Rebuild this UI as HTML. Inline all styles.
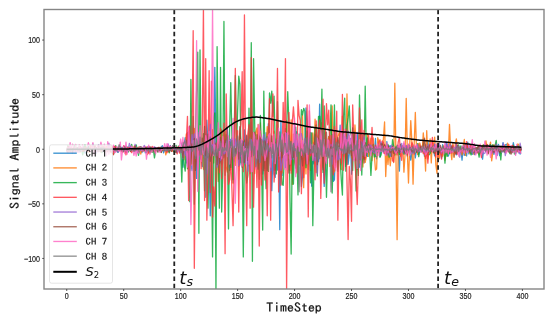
<!DOCTYPE html>
<html><head><meta charset="utf-8"><style>
html,body{margin:0;padding:0;background:#fff;width:550px;height:323px;overflow:hidden}
svg{display:block;filter:blur(0.3px)}
.tk{font-family:'Liberation Sans',sans-serif;font-size:9px;fill:#222;stroke:#222;stroke-width:0.2px}
.lg{font-family:'IPAGothic','WenQuanYi Zen Hei Mono',monospace;font-size:10.8px;fill:#151515;stroke:#151515;stroke-width:0.2px}
.al{font-family:'IPAGothic','WenQuanYi Zen Hei Mono',monospace;font-size:13.9px;fill:#111;stroke:#111;stroke-width:0.25px}
.mt{font-family:'DejaVu Sans',sans-serif;font-style:italic;font-size:13px;fill:#111}
</style></head><body>
<svg width="550" height="323" viewBox="0 0 550 323">
<defs><clipPath id="ax"><rect x="44.0" y="9.5" width="500.0" height="279.5"/></clipPath></defs>
<rect width="550" height="323" fill="#fff"/>
<g clip-path="url(#ax)">
<polyline points="66.73,152.09 67.87,150.81 69.01,149.63 70.14,148.82 71.28,151.22 72.42,152.66 73.56,147.71 74.70,148.91 75.84,148.48 76.98,149.99 78.12,147.23 79.26,149.66 80.40,146.87 81.54,151.08 82.68,147.67 83.82,150.16 84.95,152.98 86.09,151.90 87.23,148.07 88.37,146.61 89.51,150.00 90.65,148.67 91.79,151.46 92.93,144.26 94.07,149.59 95.21,146.13 96.35,150.52 97.49,149.57 98.63,145.97 99.76,150.00 100.90,147.32 102.04,151.71 103.18,147.14 104.32,149.91 105.46,147.20 106.60,150.24 107.74,148.35 108.88,149.35 110.02,150.30 111.16,147.62 112.30,149.85 113.43,151.27 114.57,146.72 115.71,149.16 116.85,150.99 117.99,152.26 119.13,149.24 120.27,150.53 121.41,147.33 122.55,147.57 123.69,150.27 124.83,146.31 125.97,150.78 127.11,148.49 128.24,149.70 129.38,147.77 130.52,148.10 131.66,149.55 132.80,150.44 133.94,149.16 135.08,151.38 136.22,149.05 137.36,149.35 138.50,147.37 139.64,151.03 140.78,149.17 141.92,152.63 143.05,147.97 144.19,147.12 145.33,152.80 146.47,149.13 147.61,151.42 148.75,152.25 149.89,147.11 151.03,150.71 152.17,151.47 153.31,150.00 154.45,150.84 155.59,147.83 156.72,150.40 157.86,147.77 159.00,148.40 160.14,151.16 161.28,146.87 162.42,145.64 163.56,152.91 164.70,148.62 165.84,149.73 166.98,149.19 168.12,149.56 169.26,149.15 170.40,145.50 171.53,151.29 172.67,146.19 173.81,151.24 174.95,151.87 176.09,147.78 177.23,150.86 178.37,147.36 179.51,151.98 180.65,149.95 181.79,143.43 182.93,167.31 184.07,144.71 185.21,137.58 186.34,162.84 187.48,132.77 188.62,153.62 189.76,126.17 190.90,164.24 192.04,170.53 193.18,161.86 194.32,143.07 195.46,135.85 196.60,178.46 197.74,155.33 198.88,149.73 200.02,147.95 201.15,150.70 202.29,166.65 203.43,148.22 204.57,149.85 205.71,169.33 206.85,120.18 207.99,147.11 209.13,161.21 210.27,215.85 211.41,158.76 212.55,137.62 213.69,150.17 214.82,67.37 215.96,139.73 217.10,150.88 218.24,145.31 219.38,146.37 220.52,160.73 221.66,164.22 222.80,145.50 223.94,157.94 225.08,152.96 226.22,149.32 227.36,127.61 228.50,150.32 229.63,170.62 230.77,139.43 231.91,144.55 233.05,182.39 234.19,147.79 235.33,151.67 236.47,151.78 237.61,142.45 238.75,143.25 239.89,164.94 241.03,144.91 242.17,158.15 243.31,150.73 244.44,129.82 245.58,153.06 246.72,146.93 247.86,151.54 249.00,142.13 250.14,140.29 251.28,122.22 252.42,156.74 253.56,145.29 254.70,153.87 255.84,143.00 256.98,159.92 258.11,145.01 259.25,138.83 260.39,156.30 261.53,145.86 262.67,174.05 263.81,140.44 264.95,168.40 266.09,132.71 267.23,145.42 268.37,123.74 269.51,133.81 270.65,151.66 271.79,190.72 272.92,155.43 274.06,173.69 275.20,177.31 276.34,138.85 277.48,170.09 278.62,143.18 279.76,229.72 280.90,120.62 282.04,175.36 283.18,147.56 284.32,153.21 285.46,128.60 286.60,160.62 287.73,142.28 288.87,155.73 290.01,147.44 291.15,165.54 292.29,161.90 293.43,148.33 294.57,137.27 295.71,158.82 296.85,131.71 297.99,155.75 299.13,144.18 300.27,155.18 301.40,186.37 302.54,176.10 303.68,158.76 304.82,148.35 305.96,107.98 307.10,121.45 308.24,155.23 309.38,139.43 310.52,135.10 311.66,186.18 312.80,154.73 313.94,163.95 315.08,143.01 316.21,139.41 317.35,149.01 318.49,161.64 319.63,104.04 320.77,151.29 321.91,140.35 323.05,160.42 324.19,186.37 325.33,167.84 326.47,154.37 327.61,154.20 328.75,136.36 329.89,140.42 331.02,148.59 332.16,134.41 333.30,181.31 334.44,179.82 335.58,150.04 336.72,146.00 337.86,171.25 339.00,149.75 340.14,125.19 341.28,165.08 342.42,146.20 343.56,152.50 344.69,136.37 345.83,166.37 346.97,124.53 348.11,164.24 349.25,154.77 350.39,138.46 351.53,174.18 352.67,132.24 353.81,157.34 354.95,141.17 356.09,157.04 357.23,132.40 358.37,153.18 359.50,167.21 360.64,134.32 361.78,162.01 362.92,146.48 364.06,140.77 365.20,156.44 366.34,146.85 367.48,156.43 368.62,148.79 369.76,147.52 370.90,153.73 372.04,146.16 373.18,147.11 374.31,155.12 375.45,138.44 376.59,158.87 377.73,149.55 378.87,148.20 380.01,156.55 381.15,148.66 382.29,144.64 383.43,148.70 384.57,147.13 385.71,153.13 386.85,141.58 387.98,155.92 389.12,146.17 390.26,145.76 391.40,149.90 392.54,148.28 393.68,152.07 394.82,150.77 395.96,151.50 397.10,145.24 398.24,150.87 399.38,171.09 400.52,144.21 401.66,149.13 402.79,145.98 403.93,147.70 405.07,148.28 406.21,146.19 407.35,156.19 408.49,144.76 409.63,150.88 410.77,160.14 411.91,153.34 413.05,149.73 414.19,146.23 415.33,157.95 416.47,148.27 417.60,150.79 418.74,154.32 419.88,147.19 421.02,152.03 422.16,147.15 423.30,141.34 424.44,156.25 425.58,151.56 426.72,152.03 427.86,141.05 429.00,151.82 430.14,150.03 431.28,150.98 432.41,146.54 433.55,150.60 434.69,155.91 435.83,150.69 436.97,146.35 438.11,150.53 439.25,151.59 440.39,147.93 441.53,158.11 442.67,144.60 443.81,150.22 444.95,153.47 446.08,141.75 447.22,149.16 448.36,156.04 449.50,152.61 450.64,144.73 451.78,151.12 452.92,148.95 454.06,156.68 455.20,147.98 456.34,154.82 457.48,148.16 458.62,149.65 459.76,150.40 460.89,149.52 462.03,160.17 463.17,147.03 464.31,155.33 465.45,149.14 466.59,155.87 467.73,142.16 468.87,153.96 470.01,146.74 471.15,151.65 472.29,154.35 473.43,149.05 474.57,149.49 475.70,148.23 476.84,149.57 477.98,147.74 479.12,149.54 480.26,145.50 481.40,150.54 482.54,159.08 483.68,149.49 484.82,150.06 485.96,151.06 487.10,146.85 488.24,153.01 489.37,148.55 490.51,146.17 491.65,148.35 492.79,149.66 493.93,154.41 495.07,147.01 496.21,149.52 497.35,147.54 498.49,144.36 499.63,155.63 500.77,147.07 501.91,150.97 503.05,142.70 504.18,151.20 505.32,144.77 506.46,144.21 507.60,146.86 508.74,148.32 509.88,147.14 511.02,150.95 512.16,152.14 513.30,142.74 514.44,148.09 515.58,153.91 516.72,147.24 517.86,148.10 518.99,150.21 520.13,154.12 521.27,148.64" fill="none" stroke="#0a78c6" stroke-width="1.3" stroke-linejoin="round" stroke-opacity="0.8"/><polyline points="66.73,149.41 67.87,152.94 69.01,149.54 70.14,147.57 71.28,148.17 72.42,149.70 73.56,147.99 74.70,147.49 75.84,150.23 76.98,147.43 78.12,151.56 79.26,147.02 80.40,151.98 81.54,148.96 82.68,148.91 83.82,150.87 84.95,146.56 86.09,148.84 87.23,150.29 88.37,148.53 89.51,152.67 90.65,147.50 91.79,149.21 92.93,151.00 94.07,147.30 95.21,149.41 96.35,148.88 97.49,150.88 98.63,148.46 99.76,148.76 100.90,150.44 102.04,145.81 103.18,149.31 104.32,146.31 105.46,150.94 106.60,146.38 107.74,151.60 108.88,146.68 110.02,149.70 111.16,146.26 112.30,150.53 113.43,146.77 114.57,148.54 115.71,150.58 116.85,148.59 117.99,149.81 119.13,150.51 120.27,146.93 121.41,151.63 122.55,151.58 123.69,151.93 124.83,147.95 125.97,152.26 127.11,148.99 128.24,149.87 129.38,148.50 130.52,151.04 131.66,148.54 132.80,151.07 133.94,146.41 135.08,150.56 136.22,148.82 137.36,151.07 138.50,147.16 139.64,149.92 140.78,154.08 141.92,147.92 143.05,150.15 144.19,147.32 145.33,149.64 146.47,146.91 147.61,154.49 148.75,147.02 149.89,153.24 151.03,148.36 152.17,151.67 153.31,148.78 154.45,150.09 155.59,147.86 156.72,150.80 157.86,148.29 159.00,151.06 160.14,148.90 161.28,147.74 162.42,150.50 163.56,148.60 164.70,149.43 165.84,154.80 166.98,147.86 168.12,151.97 169.26,149.15 170.40,149.50 171.53,147.83 172.67,151.01 173.81,151.74 174.95,149.90 176.09,148.07 177.23,150.31 178.37,148.25 179.51,148.11 180.65,152.00 181.79,147.73 182.93,154.88 184.07,159.85 185.21,150.68 186.34,133.90 187.48,163.41 188.62,131.96 189.76,130.08 190.90,139.03 192.04,164.13 193.18,156.33 194.32,128.47 195.46,161.42 196.60,148.01 197.74,151.68 198.88,148.21 200.02,151.39 201.15,142.77 202.29,149.65 203.43,168.96 204.57,170.13 205.71,146.08 206.85,160.41 207.99,151.55 209.13,138.89 210.27,149.96 211.41,139.69 212.55,129.56 213.69,162.98 214.82,141.76 215.96,156.99 217.10,146.98 218.24,181.49 219.38,158.69 220.52,152.01 221.66,129.79 222.80,152.85 223.94,146.01 225.08,131.49 226.22,167.27 227.36,172.03 228.50,148.89 229.63,152.03 230.77,169.74 231.91,138.05 233.05,183.55 234.19,140.14 235.33,165.33 236.47,156.16 237.61,136.68 238.75,166.33 239.89,133.45 241.03,151.95 242.17,145.67 243.31,160.59 244.44,143.90 245.58,154.23 246.72,139.43 247.86,165.90 249.00,148.45 250.14,158.45 251.28,132.29 252.42,132.82 253.56,142.88 254.70,173.36 255.84,131.69 256.98,127.91 258.11,151.63 259.25,154.59 260.39,122.95 261.53,168.89 262.67,140.33 263.81,161.24 264.95,152.10 266.09,144.95 267.23,126.73 268.37,153.71 269.51,133.99 270.65,166.65 271.79,144.81 272.92,153.29 274.06,131.07 275.20,162.32 276.34,142.15 277.48,141.58 278.62,140.70 279.76,140.97 280.90,141.63 282.04,173.03 283.18,153.42 284.32,143.70 285.46,141.59 286.60,120.62 287.73,153.04 288.87,139.16 290.01,170.47 291.15,119.81 292.29,184.40 293.43,134.08 294.57,162.14 295.71,165.89 296.85,162.52 297.99,147.23 299.13,164.96 300.27,140.77 301.40,158.94 302.54,115.04 303.68,187.65 304.82,139.63 305.96,173.97 307.10,136.84 308.24,169.24 309.38,127.57 310.52,170.47 311.66,148.96 312.80,132.81 313.94,151.68 315.08,119.08 316.21,172.58 317.35,150.51 318.49,135.63 319.63,151.51 320.77,150.75 321.91,122.66 323.05,167.14 324.19,148.63 325.33,132.56 326.47,160.03 327.61,144.59 328.75,136.65 329.89,166.46 331.02,145.38 332.16,105.80 333.30,147.62 334.44,171.96 335.58,138.78 336.72,152.40 337.86,136.74 339.00,133.21 340.14,131.99 341.28,169.59 342.42,116.19 343.56,156.02 344.69,139.21 345.83,159.14 346.97,93.90 348.11,137.98 349.25,153.34 350.39,145.31 351.53,157.81 352.67,157.42 353.81,154.96 354.95,124.93 356.09,143.00 357.23,169.38 358.37,147.20 359.50,162.83 360.64,150.69 361.78,143.19 362.92,167.08 364.06,139.70 365.20,162.35 366.34,156.79 367.48,133.41 368.62,156.46 369.76,146.58 370.90,138.10 372.04,160.72 373.18,137.94 374.31,154.18 375.45,170.02 376.59,168.97 377.73,137.57 378.87,141.65 380.01,150.49 381.15,147.68 382.29,149.99 383.43,138.52 384.57,121.96 385.71,176.54 386.85,150.84 387.98,164.54 389.12,149.81 390.26,165.76 391.40,154.26 392.54,147.44 393.68,162.52 394.82,83.20 395.96,158.36 397.10,239.65 398.24,145.65 399.38,148.83 400.52,156.27 401.66,146.92 402.79,145.83 403.93,172.18 405.07,154.21 406.21,98.37 407.35,153.01 408.49,183.10 409.63,147.43 410.77,120.54 411.91,142.69 413.05,184.19 414.19,143.93 415.33,112.46 416.47,148.18 417.60,154.57 418.74,143.65 419.88,143.09 421.02,151.66 422.16,151.84 423.30,132.87 424.44,146.85 425.58,171.09 426.72,130.69 427.86,158.96 429.00,152.23 430.14,138.81 431.28,162.90 432.41,140.66 433.55,150.67 434.69,137.24 435.83,164.57 436.97,173.27 438.11,142.67 439.25,158.69 440.39,146.92 441.53,153.45 442.67,156.24 443.81,145.69 444.95,160.17 446.08,153.71 447.22,145.88 448.36,152.24 449.50,124.47 450.64,149.91 451.78,159.62 452.92,143.23 454.06,157.36 455.20,144.68 456.34,138.88 457.48,147.94 458.62,149.56 459.76,151.09 460.89,147.87 462.03,154.87 463.17,146.77 464.31,139.51 465.45,155.41 466.59,145.93 467.73,148.02 468.87,149.62 470.01,153.81 471.15,145.32 472.29,149.79 473.43,154.10 474.57,148.60 475.70,147.87 476.84,149.63 477.98,147.78 479.12,154.35 480.26,152.23 481.40,146.38 482.54,145.14 483.68,147.06 484.82,149.59 485.96,140.80 487.10,149.23 488.24,152.73 489.37,147.80 490.51,142.15 491.65,160.82 492.79,152.69 493.93,144.58 495.07,148.87 496.21,144.26 497.35,150.30 498.49,146.40 499.63,149.46 500.77,153.21 501.91,146.23 503.05,149.25 504.18,149.41 505.32,148.89 506.46,151.10 507.60,143.08 508.74,149.27 509.88,152.85 511.02,147.73 512.16,151.56 513.30,147.22 514.44,149.68 515.58,147.14 516.72,149.17 517.86,143.97 518.99,145.15 520.13,151.76 521.27,147.74" fill="none" stroke="#ff7200" stroke-width="1.3" stroke-linejoin="round" stroke-opacity="0.8"/><polyline points="66.73,150.96 67.87,145.63 69.01,150.60 70.14,151.54 71.28,149.26 72.42,150.73 73.56,148.26 74.70,145.46 75.84,152.10 76.98,148.13 78.12,149.43 79.26,146.59 80.40,149.77 81.54,148.94 82.68,154.86 83.82,149.05 84.95,144.91 86.09,147.86 87.23,149.48 88.37,146.64 89.51,147.45 90.65,150.01 91.79,148.54 92.93,149.59 94.07,147.41 95.21,150.88 96.35,148.13 97.49,150.29 98.63,146.39 99.76,150.88 100.90,147.90 102.04,152.61 103.18,149.10 104.32,147.76 105.46,148.47 106.60,149.75 107.74,151.57 108.88,146.53 110.02,151.53 111.16,148.76 112.30,152.89 113.43,154.49 114.57,151.28 115.71,145.70 116.85,149.87 117.99,151.84 119.13,147.99 120.27,149.64 121.41,149.25 122.55,150.13 123.69,146.08 124.83,147.30 125.97,151.99 127.11,146.87 128.24,152.06 129.38,148.52 130.52,147.89 131.66,144.33 132.80,150.93 133.94,148.93 135.08,150.24 136.22,144.87 137.36,149.54 138.50,155.36 139.64,149.46 140.78,147.09 141.92,150.83 143.05,148.45 144.19,150.40 145.33,148.31 146.47,152.71 147.61,147.47 148.75,147.58 149.89,150.35 151.03,148.25 152.17,152.27 153.31,149.29 154.45,157.98 155.59,151.22 156.72,148.72 157.86,152.11 159.00,148.54 160.14,148.17 161.28,152.26 162.42,147.87 163.56,149.26 164.70,150.00 165.84,147.72 166.98,146.78 168.12,149.12 169.26,152.84 170.40,149.02 171.53,149.29 172.67,147.89 173.81,151.35 174.95,152.12 176.09,145.37 177.23,152.03 178.37,146.02 179.51,150.49 180.65,148.49 181.79,182.00 182.93,142.48 184.07,164.31 185.21,171.09 186.34,144.85 187.48,168.77 188.62,141.73 189.76,201.66 190.90,79.38 192.04,163.46 193.18,116.47 194.32,204.17 195.46,130.11 196.60,91.39 197.74,52.08 198.88,233.32 200.02,49.90 201.15,158.13 202.29,148.92 203.43,133.70 204.57,190.82 205.71,147.59 206.85,176.49 207.99,208.21 209.13,157.01 210.27,151.28 211.41,148.50 212.55,256.90 213.69,117.45 214.82,112.94 215.96,291.18 217.10,46.62 218.24,146.81 219.38,208.21 220.52,67.37 221.66,212.03 222.80,168.72 223.94,21.51 225.08,175.25 226.22,134.64 227.36,143.10 228.50,228.95 229.63,129.24 230.77,82.65 231.91,138.36 233.05,179.69 234.19,131.13 235.33,75.45 236.47,150.30 237.61,111.12 238.75,76.10 239.89,84.03 241.03,162.84 242.17,151.20 243.31,256.90 244.44,140.06 245.58,166.14 246.72,182.98 247.86,175.12 249.00,108.07 250.14,173.66 251.28,42.69 252.42,261.27 253.56,58.63 254.70,124.66 255.84,167.64 256.98,161.36 258.11,147.91 259.25,179.30 260.39,115.40 261.53,161.46 262.67,230.04 263.81,91.06 264.95,161.37 266.09,188.64 267.23,136.62 268.37,171.40 269.51,93.02 270.65,103.09 271.79,91.06 272.92,116.38 274.06,96.08 275.20,142.08 276.34,173.96 277.48,101.72 278.62,158.94 279.76,131.84 280.90,161.74 282.04,184.19 283.18,185.29 284.32,156.08 285.46,155.47 286.60,131.50 287.73,91.71 288.87,121.09 290.01,200.56 291.15,254.06 292.29,144.86 293.43,184.21 294.57,142.69 295.71,127.27 296.85,153.18 297.99,194.95 299.13,133.96 300.27,141.61 301.40,109.68 302.54,114.87 303.68,108.35 304.82,111.26 305.96,167.72 307.10,147.74 308.24,164.21 309.38,147.06 310.52,182.81 311.66,132.89 312.80,225.68 313.94,168.43 315.08,128.49 316.21,124.96 317.35,176.03 318.49,116.53 319.63,116.11 320.77,138.19 321.91,89.06 323.05,172.52 324.19,105.80 325.33,143.41 326.47,197.29 327.61,155.66 328.75,154.64 329.89,133.32 331.02,104.81 332.16,193.03 333.30,157.98 334.44,104.81 335.58,162.47 336.72,145.85 337.86,169.18 339.00,145.79 340.14,158.68 341.28,179.82 342.42,194.98 343.56,116.06 344.69,98.21 345.83,171.17 346.97,126.65 348.11,117.92 349.25,105.80 350.39,131.27 351.53,136.28 352.67,170.56 353.81,131.57 354.95,146.40 356.09,191.02 357.23,152.71 358.37,175.45 359.50,94.99 360.64,137.95 361.78,174.99 362.92,135.22 364.06,159.29 365.20,86.25 366.34,155.79 367.48,137.83 368.62,151.05 369.76,153.11 370.90,175.45 372.04,154.93 373.18,144.41 374.31,156.93 375.45,156.71 376.59,148.88 377.73,152.62 378.87,145.36 380.01,157.28 381.15,154.66 382.29,143.21 383.43,151.16 384.57,145.36 385.71,149.77 386.85,150.33 387.98,144.32 389.12,157.19 390.26,153.91 391.40,156.40 392.54,139.64 393.68,146.08 394.82,155.00 395.96,146.76 397.10,148.88 398.24,147.90 399.38,154.39 400.52,144.57 401.66,149.71 402.79,147.75 403.93,154.20 405.07,151.04 406.21,150.46 407.35,153.93 408.49,149.27 409.63,147.89 410.77,148.67 411.91,150.02 413.05,152.23 414.19,147.47 415.33,152.55 416.47,152.08 417.60,143.64 418.74,156.59 419.88,147.56 421.02,147.47 422.16,149.98 423.30,151.17 424.44,147.09 425.58,152.53 426.72,148.51 427.86,154.08 429.00,154.74 430.14,153.33 431.28,146.92 432.41,145.89 433.55,152.20 434.69,144.76 435.83,148.39 436.97,146.08 438.11,150.71 439.25,152.23 440.39,148.51 441.53,149.92 442.67,149.39 443.81,147.13 444.95,163.14 446.08,148.90 447.22,156.39 448.36,150.17 449.50,153.47 450.64,148.23 451.78,150.69 452.92,149.91 454.06,149.74 455.20,151.26 456.34,147.12 457.48,152.61 458.62,144.95 459.76,149.31 460.89,145.81 462.03,150.14 463.17,148.99 464.31,149.85 465.45,147.61 466.59,152.16 467.73,148.41 468.87,151.60 470.01,151.96 471.15,155.00 472.29,148.28 473.43,148.25 474.57,154.26 475.70,152.96 476.84,147.44 477.98,150.60 479.12,157.17 480.26,147.93 481.40,151.08 482.54,149.82 483.68,144.57 484.82,144.85 485.96,150.58 487.10,147.97 488.24,150.03 489.37,145.46 490.51,144.60 491.65,150.30 492.79,144.60 493.93,152.11 495.07,145.60 496.21,140.33 497.35,152.01 498.49,147.40 499.63,146.54 500.77,159.93 501.91,147.42 503.05,149.79 504.18,146.30 505.32,147.39 506.46,147.47 507.60,149.89 508.74,147.27 509.88,153.57 511.02,146.09 512.16,150.60 513.30,145.17 514.44,153.98 515.58,153.02 516.72,147.07 517.86,145.80 518.99,149.75 520.13,149.92 521.27,149.02" fill="none" stroke="#05a532" stroke-width="1.3" stroke-linejoin="round" stroke-opacity="0.8"/><polyline points="66.73,150.65 67.87,146.83 69.01,146.39 70.14,152.36 71.28,147.54 72.42,153.43 73.56,149.01 74.70,149.78 75.84,148.77 76.98,150.50 78.12,149.36 79.26,149.62 80.40,146.59 81.54,147.75 82.68,151.41 83.82,147.60 84.95,150.71 86.09,146.98 87.23,151.47 88.37,151.49 89.51,150.25 90.65,145.59 91.79,146.66 92.93,149.70 94.07,148.67 95.21,145.95 96.35,150.73 97.49,151.59 98.63,150.22 99.76,150.75 100.90,147.45 102.04,151.30 103.18,147.20 104.32,147.61 105.46,149.13 106.60,151.39 107.74,150.61 108.88,147.70 110.02,150.97 111.16,152.49 112.30,146.86 113.43,154.64 114.57,146.24 115.71,147.15 116.85,149.54 117.99,147.97 119.13,149.55 120.27,147.80 121.41,149.57 122.55,151.25 123.69,145.65 124.83,147.92 125.97,154.81 127.11,147.56 128.24,147.52 129.38,147.18 130.52,150.16 131.66,152.66 132.80,147.73 133.94,150.78 135.08,147.42 136.22,150.13 137.36,147.61 138.50,152.03 139.64,146.81 140.78,149.39 141.92,148.80 143.05,151.60 144.19,147.94 145.33,151.45 146.47,149.78 147.61,149.24 148.75,153.42 149.89,146.57 151.03,150.79 152.17,146.35 153.31,148.82 154.45,147.67 155.59,150.10 156.72,148.48 157.86,147.87 159.00,147.23 160.14,149.96 161.28,149.74 162.42,148.57 163.56,148.10 164.70,149.92 165.84,147.52 166.98,152.81 168.12,148.72 169.26,149.27 170.40,146.19 171.53,151.37 172.67,149.43 173.81,148.14 174.95,147.03 176.09,150.58 177.23,153.94 178.37,146.72 179.51,153.19 180.65,147.84 181.79,145.69 182.93,155.61 184.07,150.95 185.21,146.34 186.34,140.23 187.48,116.37 188.62,200.56 189.76,126.16 190.90,164.93 192.04,130.55 193.18,30.68 194.32,268.26 195.46,151.76 196.60,147.62 197.74,154.26 198.88,138.73 200.02,135.92 201.15,168.66 202.29,129.66 203.43,7.32 204.57,200.56 205.71,58.63 206.85,220.19 207.99,167.41 209.13,70.64 210.27,192.49 211.41,81.17 212.55,217.07 213.69,186.89 214.82,206.02 215.96,173.26 217.10,143.44 218.24,139.89 219.38,172.76 220.52,128.04 221.66,178.59 222.80,156.43 223.94,123.15 225.08,253.63 226.22,94.01 227.36,153.55 228.50,184.41 229.63,179.76 230.77,158.18 231.91,188.96 233.05,225.68 234.19,169.57 235.33,68.46 236.47,151.26 237.61,130.65 238.75,212.03 239.89,130.79 241.03,123.53 242.17,71.73 243.31,171.67 244.44,14.96 245.58,162.49 246.72,225.68 247.86,134.11 249.00,124.68 250.14,208.21 251.28,57.54 252.42,155.80 253.56,207.12 254.70,159.44 255.84,148.52 256.98,187.60 258.11,124.52 259.25,245.98 260.39,131.23 261.53,185.01 262.67,141.21 263.81,155.29 264.95,180.09 266.09,139.19 267.23,215.85 268.37,137.33 269.51,98.65 270.65,220.22 271.79,118.19 272.92,93.90 274.06,182.00 275.20,167.81 276.34,147.50 277.48,68.46 278.62,191.88 279.76,147.04 280.90,185.28 282.04,157.00 283.18,102.52 284.32,148.81 285.46,58.63 286.60,291.18 287.73,164.13 288.87,112.35 290.01,154.04 291.15,173.22 292.29,121.97 293.43,106.78 294.57,123.24 295.71,161.90 296.85,172.84 297.99,100.34 299.13,115.62 300.27,120.63 301.40,193.69 302.54,143.12 303.68,177.64 304.82,157.67 305.96,157.99 307.10,104.83 308.24,216.94 309.38,110.80 310.52,155.76 311.66,148.10 312.80,155.19 313.94,142.48 315.08,179.82 316.21,120.97 317.35,156.37 318.49,129.73 319.63,120.23 320.77,198.38 321.91,152.13 323.05,99.25 324.19,183.18 325.33,138.00 326.47,103.72 327.61,124.81 328.75,110.24 329.89,155.60 331.02,135.52 332.16,159.91 333.30,174.91 334.44,126.43 335.58,167.17 336.72,111.26 337.86,220.22 339.00,151.71 340.14,133.11 341.28,163.32 342.42,94.44 343.56,170.20 344.69,151.08 345.83,129.23 346.97,180.55 348.11,239.54 349.25,166.47 350.39,180.03 351.53,221.31 352.67,104.81 353.81,138.52 354.95,159.20 356.09,179.73 357.23,204.49 358.37,166.86 359.50,107.90 360.64,149.63 361.78,119.88 362.92,158.17 364.06,130.28 365.20,159.30 366.34,148.68 367.48,150.46 368.62,135.06 369.76,150.27 370.90,145.04 372.04,127.41 373.18,148.94 374.31,153.45 375.45,145.11 376.59,148.37 377.73,150.12 378.87,142.09 380.01,139.73 381.15,150.06 382.29,140.97 383.43,142.71 384.57,153.66 385.71,146.27 386.85,149.35 387.98,147.80 389.12,148.27 390.26,152.53 391.40,149.02 392.54,160.66 393.68,161.72 394.82,148.89 395.96,151.64 397.10,154.99 398.24,141.84 399.38,137.66 400.52,151.23 401.66,160.24 402.79,146.44 403.93,149.65 405.07,151.71 406.21,146.00 407.35,155.25 408.49,147.05 409.63,149.97 410.77,150.12 411.91,142.60 413.05,145.26 414.19,154.10 415.33,146.20 416.47,147.68 417.60,152.19 418.74,151.01 419.88,144.82 421.02,150.45 422.16,147.32 423.30,153.74 424.44,149.21 425.58,158.45 426.72,149.59 427.86,163.14 429.00,144.93 430.14,151.37 431.28,147.14 432.41,137.42 433.55,149.89 434.69,148.52 435.83,157.07 436.97,143.70 438.11,156.84 439.25,148.26 440.39,152.08 441.53,159.06 442.67,148.72 443.81,150.56 444.95,146.66 446.08,149.59 447.22,144.95 448.36,152.80 449.50,146.65 450.64,151.47 451.78,152.99 452.92,145.18 454.06,149.17 455.20,154.23 456.34,144.19 457.48,154.16 458.62,146.68 459.76,149.62 460.89,150.81 462.03,149.14 463.17,149.34 464.31,150.45 465.45,146.78 466.59,141.63 467.73,148.45 468.87,151.37 470.01,144.72 471.15,146.74 472.29,151.73 473.43,146.64 474.57,148.50 475.70,149.43 476.84,148.21 477.98,152.99 479.12,144.87 480.26,150.50 481.40,157.51 482.54,146.74 483.68,149.71 484.82,146.34 485.96,150.05 487.10,144.72 488.24,146.16 489.37,148.92 490.51,148.14 491.65,148.95 492.79,152.46 493.93,146.09 495.07,150.27 496.21,149.33 497.35,148.46 498.49,150.97 499.63,146.39 500.77,149.44 501.91,147.86 503.05,150.24 504.18,144.94 505.32,152.29 506.46,146.93 507.60,150.60 508.74,144.49 509.88,149.42 511.02,151.82 512.16,145.34 513.30,146.33 514.44,151.03 515.58,148.71 516.72,148.87 517.86,152.09 518.99,147.89 520.13,152.17 521.27,147.89" fill="none" stroke="#ff2f3a" stroke-width="1.3" stroke-linejoin="round" stroke-opacity="0.8"/><polyline points="66.73,148.93 67.87,151.23 69.01,146.78 70.14,148.60 71.28,151.61 72.42,148.87 73.56,152.12 74.70,149.51 75.84,148.64 76.98,151.99 78.12,148.12 79.26,152.07 80.40,149.89 81.54,147.81 82.68,147.86 83.82,149.27 84.95,149.65 86.09,149.02 87.23,150.57 88.37,148.35 89.51,150.22 90.65,148.95 91.79,150.76 92.93,148.74 94.07,151.10 95.21,147.28 96.35,153.38 97.49,149.68 98.63,144.56 99.76,148.58 100.90,147.02 102.04,149.29 103.18,151.78 104.32,148.93 105.46,150.46 106.60,149.45 107.74,149.98 108.88,143.06 110.02,149.11 111.16,150.31 112.30,148.29 113.43,150.00 114.57,148.45 115.71,150.77 116.85,148.97 117.99,152.06 119.13,150.30 120.27,149.86 121.41,148.69 122.55,152.16 123.69,148.12 124.83,150.68 125.97,149.18 127.11,152.11 128.24,149.15 129.38,143.35 130.52,147.05 131.66,150.48 132.80,147.56 133.94,151.03 135.08,144.28 136.22,148.58 137.36,152.51 138.50,148.40 139.64,147.59 140.78,150.49 141.92,148.98 143.05,150.91 144.19,145.44 145.33,147.46 146.47,151.47 147.61,146.64 148.75,147.09 149.89,151.37 151.03,149.63 152.17,148.74 153.31,149.91 154.45,146.78 155.59,147.73 156.72,149.29 157.86,148.31 159.00,150.57 160.14,148.24 161.28,150.64 162.42,147.37 163.56,147.03 164.70,151.04 165.84,148.24 166.98,150.50 168.12,143.93 169.26,147.61 170.40,149.79 171.53,149.44 172.67,148.69 173.81,146.52 174.95,148.19 176.09,150.54 177.23,152.04 178.37,150.47 179.51,147.47 180.65,152.10 181.79,146.36 182.93,158.76 184.07,149.55 185.21,155.62 186.34,140.87 187.48,165.89 188.62,135.16 189.76,164.55 190.90,146.49 192.04,134.69 193.18,145.53 194.32,133.82 195.46,154.16 196.60,158.30 197.74,169.71 198.88,132.44 200.02,156.03 201.15,146.93 202.29,144.18 203.43,152.12 204.57,157.33 205.71,146.58 206.85,173.94 207.99,147.52 209.13,148.97 210.27,124.41 211.41,156.59 212.55,144.61 213.69,154.71 214.82,137.42 215.96,155.06 217.10,167.25 218.24,163.08 219.38,143.54 220.52,160.56 221.66,149.83 222.80,140.13 223.94,154.00 225.08,152.92 226.22,141.03 227.36,143.15 228.50,148.34 229.63,140.45 230.77,141.33 231.91,138.55 233.05,138.34 234.19,158.12 235.33,138.99 236.47,146.94 237.61,140.87 238.75,165.83 239.89,142.71 241.03,156.61 242.17,140.55 243.31,142.66 244.44,143.15 245.58,163.76 246.72,136.09 247.86,171.13 249.00,146.32 250.14,151.16 251.28,139.77 252.42,149.43 253.56,149.84 254.70,139.40 255.84,139.94 256.98,159.31 258.11,144.44 259.25,162.55 260.39,138.98 261.53,139.62 262.67,141.36 263.81,134.40 264.95,153.36 266.09,138.26 267.23,156.76 268.37,149.88 269.51,144.80 270.65,170.73 271.79,152.11 272.92,145.24 274.06,159.53 275.20,143.93 276.34,156.62 277.48,139.96 278.62,149.19 279.76,142.95 280.90,170.43 282.04,163.60 283.18,156.06 284.32,158.36 285.46,167.48 286.60,133.31 287.73,154.42 288.87,153.67 290.01,145.73 291.15,159.70 292.29,145.84 293.43,158.99 294.57,124.27 295.71,151.12 296.85,140.77 297.99,146.39 299.13,151.36 300.27,136.63 301.40,133.55 302.54,139.39 303.68,156.96 304.82,138.49 305.96,152.95 307.10,154.21 308.24,153.01 309.38,139.07 310.52,153.18 311.66,147.18 312.80,152.55 313.94,144.68 315.08,160.90 316.21,150.94 317.35,173.91 318.49,143.49 319.63,149.76 320.77,140.58 321.91,151.95 323.05,147.01 324.19,155.19 325.33,155.21 326.47,153.26 327.61,143.85 328.75,155.88 329.89,154.22 331.02,144.50 332.16,164.19 333.30,143.70 334.44,143.01 335.58,152.42 336.72,145.93 337.86,159.94 339.00,158.52 340.14,144.15 341.28,150.72 342.42,137.83 343.56,134.42 344.69,153.15 345.83,136.94 346.97,152.06 348.11,131.19 349.25,135.76 350.39,150.07 351.53,148.08 352.67,149.74 353.81,143.59 354.95,153.93 356.09,135.31 357.23,158.77 358.37,153.88 359.50,145.17 360.64,164.34 361.78,141.81 362.92,151.76 364.06,136.68 365.20,148.26 366.34,152.19 367.48,148.86 368.62,144.08 369.76,146.49 370.90,144.87 372.04,150.00 373.18,152.10 374.31,152.81 375.45,146.71 376.59,148.44 377.73,151.17 378.87,147.48 380.01,149.76 381.15,141.93 382.29,149.96 383.43,152.28 384.57,147.76 385.71,149.11 386.85,155.11 387.98,149.16 389.12,153.32 390.26,156.40 391.40,145.18 392.54,146.92 393.68,149.43 394.82,151.28 395.96,149.79 397.10,147.18 398.24,151.90 399.38,146.11 400.52,152.56 401.66,143.28 402.79,152.64 403.93,143.68 405.07,153.84 406.21,145.47 407.35,148.58 408.49,149.98 409.63,145.40 410.77,153.43 411.91,147.58 413.05,153.64 414.19,147.98 415.33,149.26 416.47,147.79 417.60,144.56 418.74,151.83 419.88,148.90 421.02,151.25 422.16,148.03 423.30,148.83 424.44,152.41 425.58,144.66 426.72,151.74 427.86,145.14 429.00,147.94 430.14,150.24 431.28,148.22 432.41,150.22 433.55,150.88 434.69,143.94 435.83,148.60 436.97,146.16 438.11,150.81 439.25,143.39 440.39,148.99 441.53,153.17 442.67,147.86 443.81,150.81 444.95,147.06 446.08,148.80 447.22,143.45 448.36,152.89 449.50,144.09 450.64,146.08 451.78,149.98 452.92,151.87 454.06,147.28 455.20,150.13 456.34,144.10 457.48,150.38 458.62,146.07 459.76,157.23 460.89,149.91 462.03,149.83 463.17,145.71 464.31,150.73 465.45,145.27 466.59,152.27 467.73,148.45 468.87,150.97 470.01,147.15 471.15,150.78 472.29,153.18 473.43,146.29 474.57,154.73 475.70,148.02 476.84,152.71 477.98,147.92 479.12,152.00 480.26,151.72 481.40,146.60 482.54,151.30 483.68,153.72 484.82,153.22 485.96,150.66 487.10,148.61 488.24,151.73 489.37,148.65 490.51,145.84 491.65,153.54 492.79,146.53 493.93,153.16 495.07,151.79 496.21,143.98 497.35,155.44 498.49,149.08 499.63,148.53 500.77,147.27 501.91,152.37 503.05,143.11 504.18,149.17 505.32,155.67 506.46,148.14 507.60,149.30 508.74,151.19 509.88,151.59 511.02,149.18 512.16,152.02 513.30,148.69 514.44,148.19 515.58,150.25 516.72,150.15 517.86,149.41 518.99,153.39 520.13,143.25 521.27,149.94" fill="none" stroke="#9060d0" stroke-width="1.3" stroke-linejoin="round" stroke-opacity="0.8"/><polyline points="66.73,150.65 67.87,151.81 69.01,146.71 70.14,150.83 71.28,146.86 72.42,151.67 73.56,147.17 74.70,151.48 75.84,148.85 76.98,149.42 78.12,150.40 79.26,149.12 80.40,150.31 81.54,149.18 82.68,150.90 83.82,151.23 84.95,148.74 86.09,149.73 87.23,149.05 88.37,149.76 89.51,147.22 90.65,149.87 91.79,148.98 92.93,150.84 94.07,145.59 95.21,151.03 96.35,147.64 97.49,148.86 98.63,145.78 99.76,150.72 100.90,152.00 102.04,147.47 103.18,149.57 104.32,148.79 105.46,151.08 106.60,150.56 107.74,147.28 108.88,150.18 110.02,148.34 111.16,151.10 112.30,150.20 113.43,148.08 114.57,151.82 115.71,147.97 116.85,149.54 117.99,148.03 119.13,150.69 120.27,146.78 121.41,149.51 122.55,151.40 123.69,149.13 124.83,150.52 125.97,146.98 127.11,150.06 128.24,147.74 129.38,149.38 130.52,151.46 131.66,149.22 132.80,150.11 133.94,149.61 135.08,145.79 136.22,149.93 137.36,148.46 138.50,149.69 139.64,147.32 140.78,146.91 141.92,150.07 143.05,148.02 144.19,149.01 145.33,149.86 146.47,148.15 147.61,150.36 148.75,149.03 149.89,147.11 151.03,151.81 152.17,148.38 153.31,149.06 154.45,152.18 155.59,150.83 156.72,149.18 157.86,151.86 159.00,147.53 160.14,150.54 161.28,152.47 162.42,148.98 163.56,149.98 164.70,149.84 165.84,148.63 166.98,149.76 168.12,146.28 169.26,151.73 170.40,148.98 171.53,151.06 172.67,145.77 173.81,148.18 174.95,151.24 176.09,152.48 177.23,147.50 178.37,149.66 179.51,148.54 180.65,150.05 181.79,148.44 182.93,157.63 184.07,146.17 185.21,149.73 186.34,140.20 187.48,152.50 188.62,145.09 189.76,170.63 190.90,157.87 192.04,143.89 193.18,149.39 194.32,138.34 195.46,170.44 196.60,158.99 197.74,141.02 198.88,155.10 200.02,145.05 201.15,159.38 202.29,138.23 203.43,150.24 204.57,126.52 205.71,155.83 206.85,142.57 207.99,134.08 209.13,150.05 210.27,161.28 211.41,156.15 212.55,152.02 213.69,149.05 214.82,150.67 215.96,143.05 217.10,164.48 218.24,144.23 219.38,163.13 220.52,137.33 221.66,152.68 222.80,141.90 223.94,151.20 225.08,140.13 226.22,151.07 227.36,147.93 228.50,149.59 229.63,141.61 230.77,167.45 231.91,146.31 233.05,158.71 234.19,161.56 235.33,148.73 236.47,153.50 237.61,144.26 238.75,159.15 239.89,126.61 241.03,148.00 242.17,167.26 243.31,141.59 244.44,162.38 245.58,149.65 246.72,135.13 247.86,160.43 249.00,143.09 250.14,140.76 251.28,156.70 252.42,146.17 253.56,151.16 254.70,132.24 255.84,153.09 256.98,134.61 258.11,169.20 259.25,150.82 260.39,132.65 261.53,154.71 262.67,141.12 263.81,170.72 264.95,140.86 266.09,145.21 267.23,170.52 268.37,151.79 269.51,148.04 270.65,166.59 271.79,135.85 272.92,153.16 274.06,151.28 275.20,170.25 276.34,157.30 277.48,140.63 278.62,155.39 279.76,148.92 280.90,146.15 282.04,157.61 283.18,149.69 284.32,133.90 285.46,146.49 286.60,155.35 287.73,154.06 288.87,173.08 290.01,141.33 291.15,157.97 292.29,147.34 293.43,157.26 294.57,146.56 295.71,168.21 296.85,146.14 297.99,153.54 299.13,143.38 300.27,141.69 301.40,157.07 302.54,165.77 303.68,144.87 304.82,155.49 305.96,163.88 307.10,130.96 308.24,154.32 309.38,149.15 310.52,147.92 311.66,155.00 312.80,146.12 313.94,156.09 315.08,134.22 316.21,146.82 317.35,164.59 318.49,138.25 319.63,144.30 320.77,154.91 321.91,148.08 323.05,169.64 324.19,149.03 325.33,153.40 326.47,132.20 327.61,154.89 328.75,155.85 329.89,148.53 331.02,146.60 332.16,156.39 333.30,134.28 334.44,159.19 335.58,144.79 336.72,150.91 337.86,137.68 339.00,144.64 340.14,154.41 341.28,152.30 342.42,132.80 343.56,149.52 344.69,147.22 345.83,140.32 346.97,164.48 348.11,143.23 349.25,152.53 350.39,144.79 351.53,155.56 352.67,127.82 353.81,159.66 354.95,132.77 356.09,160.57 357.23,154.65 358.37,144.30 359.50,159.33 360.64,141.83 361.78,152.97 362.92,148.00 364.06,163.03 365.20,142.64 366.34,147.46 367.48,151.50 368.62,144.78 369.76,149.99 370.90,148.59 372.04,147.21 373.18,150.40 374.31,148.36 375.45,149.27 376.59,150.92 377.73,147.24 378.87,151.91 380.01,149.38 381.15,143.77 382.29,144.51 383.43,150.09 384.57,144.30 385.71,150.65 386.85,154.14 387.98,145.27 389.12,147.78 390.26,152.91 391.40,151.39 392.54,146.11 393.68,153.31 394.82,148.67 395.96,147.71 397.10,152.58 398.24,148.05 399.38,152.29 400.52,149.29 401.66,149.45 402.79,147.25 403.93,150.69 405.07,153.19 406.21,153.15 407.35,150.08 408.49,145.02 409.63,151.52 410.77,147.30 411.91,151.77 413.05,145.85 414.19,151.96 415.33,148.05 416.47,151.27 417.60,147.65 418.74,150.15 419.88,150.03 421.02,146.17 422.16,148.92 423.30,146.39 424.44,138.11 425.58,147.45 426.72,149.36 427.86,146.36 429.00,152.01 430.14,144.62 431.28,151.55 432.41,150.09 433.55,152.63 434.69,153.27 435.83,146.44 436.97,147.60 438.11,147.64 439.25,152.89 440.39,145.41 441.53,150.30 442.67,147.72 443.81,148.44 444.95,149.83 446.08,147.66 447.22,150.07 448.36,153.22 449.50,149.15 450.64,152.96 451.78,145.94 452.92,150.57 454.06,150.23 455.20,152.68 456.34,153.72 457.48,145.30 458.62,150.46 459.76,148.77 460.89,152.23 462.03,147.01 463.17,147.74 464.31,150.12 465.45,143.39 466.59,148.29 467.73,148.80 468.87,148.30 470.01,151.76 471.15,147.68 472.29,146.46 473.43,149.67 474.57,152.66 475.70,147.28 476.84,152.53 477.98,145.90 479.12,151.03 480.26,146.76 481.40,150.42 482.54,147.43 483.68,149.93 484.82,146.45 485.96,151.07 487.10,144.30 488.24,153.96 489.37,147.63 490.51,150.70 491.65,147.05 492.79,149.86 493.93,152.32 495.07,150.55 496.21,148.03 497.35,151.14 498.49,147.51 499.63,152.59 500.77,146.46 501.91,151.09 503.05,148.31 504.18,152.01 505.32,146.68 506.46,150.63 507.60,150.39 508.74,152.00 509.88,148.77 511.02,154.18 512.16,152.17 513.30,148.41 514.44,151.16 515.58,146.58 516.72,151.07 517.86,147.58 518.99,150.21 520.13,147.96 521.27,150.29" fill="none" stroke="#964a38" stroke-width="1.3" stroke-linejoin="round" stroke-opacity="0.8"/><polyline points="66.73,152.51 67.87,147.02 69.01,152.32 70.14,142.70 71.28,151.53 72.42,144.08 73.56,145.58 74.70,153.01 75.84,144.38 76.98,151.59 78.12,152.34 79.26,144.57 80.40,148.88 81.54,151.09 82.68,144.99 83.82,147.47 84.95,149.32 86.09,149.96 87.23,147.00 88.37,142.70 89.51,146.43 90.65,151.52 91.79,148.61 92.93,142.70 94.07,154.99 95.21,147.97 96.35,149.61 97.49,145.32 98.63,151.83 99.76,147.91 100.90,142.15 102.04,146.98 103.18,149.97 104.32,144.14 105.46,147.50 106.60,155.75 107.74,141.75 108.88,154.21 110.02,145.19 111.16,148.23 112.30,152.55 113.43,145.06 114.57,152.60 115.71,152.28 116.85,146.29 117.99,150.68 119.13,150.98 120.27,142.04 121.41,159.95 122.55,150.67 123.69,145.78 124.83,153.71 125.97,142.04 127.11,154.08 128.24,148.02 129.38,150.75 130.52,149.48 131.66,146.02 132.80,150.49 133.94,155.36 135.08,150.38 136.22,156.01 137.36,148.78 138.50,153.05 139.64,148.24 140.78,146.69 141.92,150.87 143.05,146.86 144.19,148.77 145.33,146.53 146.47,159.08 147.61,149.49 148.75,145.13 149.89,154.58 151.03,150.63 152.17,151.72 153.31,146.86 154.45,149.86 155.59,153.80 156.72,148.15 157.86,149.43 159.00,151.76 160.14,152.14 161.28,150.20 162.42,149.08 163.56,149.59 164.70,143.73 165.84,149.78 166.98,143.72 168.12,145.18 169.26,149.08 170.40,146.35 171.53,149.66 172.67,146.54 173.81,150.13 174.95,146.28 176.09,147.57 177.23,149.20 178.37,151.11 179.51,146.54 180.65,139.03 181.79,147.72 182.93,137.45 184.07,150.61 185.21,140.63 186.34,150.44 187.48,167.14 188.62,126.88 189.76,151.75 190.90,224.58 192.04,174.04 193.18,140.76 194.32,148.80 195.46,155.92 196.60,40.62 197.74,191.34 198.88,144.09 200.02,125.66 201.15,161.45 202.29,144.45 203.43,154.29 204.57,150.28 205.71,135.53 206.85,142.15 207.99,155.59 209.13,131.42 210.27,138.56 211.41,144.21 212.55,7.32 213.69,155.60 214.82,144.82 215.96,149.51 217.10,152.07 218.24,122.54 219.38,157.34 220.52,143.13 221.66,158.77 222.80,136.76 223.94,151.73 225.08,151.39 226.22,143.09 227.36,156.69 228.50,135.78 229.63,164.06 230.77,146.74 231.91,146.76 233.05,118.45 234.19,163.71 235.33,203.29 236.47,160.91 237.61,147.28 238.75,140.66 239.89,151.51 241.03,139.38 242.17,166.05 243.31,146.35 244.44,151.84 245.58,148.53 246.72,154.54 247.86,148.99 249.00,164.08 250.14,139.50 251.28,171.55 252.42,171.58 253.56,132.53 254.70,136.62 255.84,169.16 256.98,139.88 258.11,149.95 259.25,125.06 260.39,135.21 261.53,138.25 262.67,145.58 263.81,151.23 264.95,160.65 266.09,154.74 267.23,143.23 268.37,135.72 269.51,133.42 270.65,167.05 271.79,142.74 272.92,153.35 274.06,134.08 275.20,163.58 276.34,148.12 277.48,146.59 278.62,128.19 279.76,156.10 280.90,142.66 282.04,133.95 283.18,137.55 284.32,169.32 285.46,132.63 286.60,169.67 287.73,132.26 288.87,144.51 290.01,164.18 291.15,152.41 292.29,143.61 293.43,142.27 294.57,117.78 295.71,176.62 296.85,134.04 297.99,136.70 299.13,151.16 300.27,128.18 301.40,155.32 302.54,140.55 303.68,152.27 304.82,145.20 305.96,143.90 307.10,164.01 308.24,147.39 309.38,104.81 310.52,148.66 311.66,144.63 312.80,160.33 313.94,152.34 315.08,145.63 316.21,152.18 317.35,138.08 318.49,143.40 319.63,159.65 320.77,130.46 321.91,142.61 323.05,156.25 324.19,139.68 325.33,159.31 326.47,163.52 327.61,139.52 328.75,140.85 329.89,162.55 331.02,149.09 332.16,154.60 333.30,129.99 334.44,166.17 335.58,170.38 336.72,152.20 337.86,149.13 339.00,147.73 340.14,157.87 341.28,125.60 342.42,153.15 343.56,143.07 344.69,129.34 345.83,152.00 346.97,139.64 348.11,146.32 349.25,136.02 350.39,149.59 351.53,132.36 352.67,145.55 353.81,160.97 354.95,156.29 356.09,132.33 357.23,168.36 358.37,152.18 359.50,139.73 360.64,170.59 361.78,148.70 362.92,151.40 364.06,140.23 365.20,156.36 366.34,146.81 367.48,152.43 368.62,146.21 369.76,151.21 370.90,155.78 372.04,146.66 373.18,149.72 374.31,150.61 375.45,147.80 376.59,155.32 377.73,143.92 378.87,155.58 380.01,145.27 381.15,151.52 382.29,146.12 383.43,153.42 384.57,146.76 385.71,155.47 386.85,142.87 387.98,152.91 389.12,147.67 390.26,150.00 391.40,147.82 392.54,147.89 393.68,147.14 394.82,151.69 395.96,153.45 397.10,150.93 398.24,146.27 399.38,144.83 400.52,149.74 401.66,151.14 402.79,147.84 403.93,141.61 405.07,147.39 406.21,153.81 407.35,152.91 408.49,144.00 409.63,155.55 410.77,148.21 411.91,147.82 413.05,149.61 414.19,145.17 415.33,152.24 416.47,144.33 417.60,150.81 418.74,146.61 419.88,150.51 421.02,152.10 422.16,147.13 423.30,151.13 424.44,146.93 425.58,154.95 426.72,153.13 427.86,150.53 429.00,151.22 430.14,148.23 431.28,142.84 432.41,151.64 433.55,146.79 434.69,149.81 435.83,144.68 436.97,149.27 438.11,151.02 439.25,147.38 440.39,148.97 441.53,151.64 442.67,147.83 443.81,153.98 444.95,141.70 446.08,152.58 447.22,147.64 448.36,154.19 449.50,146.85 450.64,153.22 451.78,149.55 452.92,152.23 454.06,147.82 455.20,149.82 456.34,149.59 457.48,148.01 458.62,156.22 459.76,149.22 460.89,152.38 462.03,146.26 463.17,151.90 464.31,153.19 465.45,143.50 466.59,152.27 467.73,152.65 468.87,145.59 470.01,149.25 471.15,148.47 472.29,139.65 473.43,151.08 474.57,143.54 475.70,154.95 476.84,150.96 477.98,150.17 479.12,151.08 480.26,144.07 481.40,154.84 482.54,149.11 483.68,151.97 484.82,141.17 485.96,149.12 487.10,155.20 488.24,145.10 489.37,147.55 490.51,157.47 491.65,148.84 492.79,150.46 493.93,150.22 495.07,149.05 496.21,158.90 497.35,149.92 498.49,146.22 499.63,150.01 500.77,148.27 501.91,150.21 503.05,149.52 504.18,146.85 505.32,148.51 506.46,152.97 507.60,148.84 508.74,150.72 509.88,147.80 511.02,145.70 512.16,146.85 513.30,152.30 514.44,150.23 515.58,155.35 516.72,144.46 517.86,149.42 518.99,152.00 520.13,151.31 521.27,153.68" fill="none" stroke="#ff62c0" stroke-width="1.3" stroke-linejoin="round" stroke-opacity="0.8"/><polyline points="66.73,150.50 67.87,149.17 69.01,150.89 70.14,149.13 71.28,150.52 72.42,150.84 73.56,148.92 74.70,149.49 75.84,149.44 76.98,147.76 78.12,150.48 79.26,149.65 80.40,151.38 81.54,148.75 82.68,149.47 83.82,146.63 84.95,149.87 86.09,149.19 87.23,147.48 88.37,149.33 89.51,149.29 90.65,148.95 91.79,151.30 92.93,150.69 94.07,148.57 95.21,149.57 96.35,147.71 97.49,149.63 98.63,151.31 99.76,148.42 100.90,147.82 102.04,148.58 103.18,147.06 104.32,152.32 105.46,148.70 106.60,150.15 107.74,148.94 108.88,149.95 110.02,149.80 111.16,149.48 112.30,148.48 113.43,148.68 114.57,150.23 115.71,150.69 116.85,150.62 117.99,148.18 119.13,144.65 120.27,147.91 121.41,149.61 122.55,148.87 123.69,151.46 124.83,147.15 125.97,148.74 127.11,150.05 128.24,148.93 129.38,149.66 130.52,150.24 131.66,150.05 132.80,148.69 133.94,151.17 135.08,150.07 136.22,149.17 137.36,147.80 138.50,151.13 139.64,147.79 140.78,146.67 141.92,147.89 143.05,148.00 144.19,149.52 145.33,147.48 146.47,149.07 147.61,150.85 148.75,149.00 149.89,152.16 151.03,147.23 152.17,150.13 153.31,149.14 154.45,149.32 155.59,148.79 156.72,148.89 157.86,150.82 159.00,148.31 160.14,147.93 161.28,146.94 162.42,147.51 163.56,150.29 164.70,148.89 165.84,151.05 166.98,148.65 168.12,150.85 169.26,149.31 170.40,147.77 171.53,149.84 172.67,146.10 173.81,148.36 174.95,151.05 176.09,150.01 177.23,148.90 178.37,149.95 179.51,148.51 180.65,151.24 181.79,152.43 182.93,146.51 184.07,142.54 185.21,140.84 186.34,150.58 187.48,146.78 188.62,150.39 189.76,145.48 190.90,147.69 192.04,151.48 193.18,149.64 194.32,140.71 195.46,158.42 196.60,139.02 197.74,145.91 198.88,150.20 200.02,137.12 201.15,154.68 202.29,142.33 203.43,146.78 204.57,155.90 205.71,197.29 206.85,147.97 207.99,157.76 209.13,152.13 210.27,136.81 211.41,152.22 212.55,146.75 213.69,153.78 214.82,155.13 215.96,146.55 217.10,155.85 218.24,148.97 219.38,150.34 220.52,141.43 221.66,155.74 222.80,147.46 223.94,151.61 225.08,147.87 226.22,150.65 227.36,137.25 228.50,167.04 229.63,148.52 230.77,146.38 231.91,140.36 233.05,156.73 234.19,146.14 235.33,156.14 236.47,151.95 237.61,135.83 238.75,151.32 239.89,141.03 241.03,154.57 242.17,143.60 243.31,162.79 244.44,150.84 245.58,154.55 246.72,146.14 247.86,156.62 249.00,145.86 250.14,137.88 251.28,150.25 252.42,142.00 253.56,155.50 254.70,146.47 255.84,166.42 256.98,158.82 258.11,158.67 259.25,140.26 260.39,162.20 261.53,139.51 262.67,155.70 263.81,141.76 264.95,146.73 266.09,149.90 267.23,143.65 268.37,147.86 269.51,151.41 270.65,147.51 271.79,157.79 272.92,144.27 274.06,161.68 275.20,151.11 276.34,144.14 277.48,154.36 278.62,145.53 279.76,135.80 280.90,151.34 282.04,140.27 283.18,154.56 284.32,143.19 285.46,143.71 286.60,152.26 287.73,151.39 288.87,135.20 290.01,149.41 291.15,141.55 292.29,156.46 293.43,143.43 294.57,150.63 295.71,148.78 296.85,156.48 297.99,147.61 299.13,191.83 300.27,151.97 301.40,148.83 302.54,151.74 303.68,155.13 304.82,143.38 305.96,152.55 307.10,137.53 308.24,154.36 309.38,146.86 310.52,132.61 311.66,152.07 312.80,152.77 313.94,145.82 315.08,156.46 316.21,136.84 317.35,159.12 318.49,147.91 319.63,158.67 320.77,140.00 321.91,156.52 323.05,130.65 324.19,143.30 325.33,147.87 326.47,156.27 327.61,148.33 328.75,157.74 329.89,148.91 331.02,191.83 332.16,147.43 333.30,147.85 334.44,138.50 335.58,154.90 336.72,142.40 337.86,150.91 339.00,147.45 340.14,148.69 341.28,150.45 342.42,149.24 343.56,154.12 344.69,145.81 345.83,152.52 346.97,148.86 348.11,141.86 349.25,153.60 350.39,144.98 351.53,149.31 352.67,150.73 353.81,150.15 354.95,145.24 356.09,149.65 357.23,140.54 358.37,167.90 359.50,149.16 360.64,159.82 361.78,143.89 362.92,155.40 364.06,146.17 365.20,144.57 366.34,150.29 367.48,148.02 368.62,151.73 369.76,147.06 370.90,149.95 372.04,148.66 373.18,148.11 374.31,151.88 375.45,148.83 376.59,149.68 377.73,149.11 378.87,149.07 380.01,148.79 381.15,150.48 382.29,146.41 383.43,151.85 384.57,148.87 385.71,149.90 386.85,149.02 387.98,150.58 389.12,149.50 390.26,148.62 391.40,150.74 392.54,149.20 393.68,149.81 394.82,148.49 395.96,150.22 397.10,147.78 398.24,149.87 399.38,148.40 400.52,149.85 401.66,149.15 402.79,148.91 403.93,147.89 405.07,150.33 406.21,148.06 407.35,149.49 408.49,150.28 409.63,147.76 410.77,149.95 411.91,149.14 413.05,147.00 414.19,152.33 415.33,148.04 416.47,150.18 417.60,151.41 418.74,146.78 419.88,149.97 421.02,148.13 422.16,151.58 423.30,146.07 424.44,149.03 425.58,149.71 426.72,150.16 427.86,148.18 429.00,151.41 430.14,151.39 431.28,147.43 432.41,149.46 433.55,148.17 434.69,151.15 435.83,151.47 436.97,148.22 438.11,149.54 439.25,148.52 440.39,150.58 441.53,149.68 442.67,146.28 443.81,148.57 444.95,149.45 446.08,148.13 447.22,149.72 448.36,148.81 449.50,149.92 450.64,148.33 451.78,150.83 452.92,148.45 454.06,151.40 455.20,148.79 456.34,151.45 457.48,146.51 458.62,151.49 459.76,147.81 460.89,149.59 462.03,148.40 463.17,147.66 464.31,149.44 465.45,149.94 466.59,148.22 467.73,150.62 468.87,148.12 470.01,149.17 471.15,151.63 472.29,150.19 473.43,148.64 474.57,148.58 475.70,148.59 476.84,150.24 477.98,149.41 479.12,147.66 480.26,152.54 481.40,148.56 482.54,149.86 483.68,147.13 484.82,147.45 485.96,150.35 487.10,147.76 488.24,150.16 489.37,148.52 490.51,149.76 491.65,148.69 492.79,150.47 493.93,148.93 495.07,147.89 496.21,148.89 497.35,146.28 498.49,150.04 499.63,149.24 500.77,150.52 501.91,151.02 503.05,151.62 504.18,151.65 505.32,150.15 506.46,147.25 507.60,149.12 508.74,151.07 509.88,149.20 511.02,148.89 512.16,149.89 513.30,150.57 514.44,150.50 515.58,148.68 516.72,148.36 517.86,149.68 518.99,147.96 520.13,147.93 521.27,148.34" fill="none" stroke="#777777" stroke-width="1.3" stroke-linejoin="round" stroke-opacity="0.8"/><polyline points="66.73,149.25 67.87,149.25 69.01,149.24 70.14,149.24 71.28,149.24 72.42,149.24 73.56,149.23 74.70,149.23 75.84,149.23 76.98,149.23 78.12,149.22 79.26,149.22 80.40,149.22 81.54,149.21 82.68,149.21 83.82,149.21 84.95,149.21 86.09,149.20 87.23,149.20 88.37,149.20 89.51,149.20 90.65,149.19 91.79,149.19 92.93,149.19 94.07,149.18 95.21,149.18 96.35,149.18 97.49,149.18 98.63,149.17 99.76,149.17 100.90,149.17 102.04,149.17 103.18,149.16 104.32,149.16 105.46,149.16 106.60,149.15 107.74,149.15 108.88,149.15 110.02,149.15 111.16,149.14 112.30,149.14 113.43,149.12 114.57,149.10 115.71,149.09 116.85,149.07 117.99,149.05 119.13,149.03 120.27,149.01 121.41,149.00 122.55,148.98 123.69,148.96 124.83,148.94 125.97,148.92 127.11,148.90 128.24,148.89 129.38,148.87 130.52,148.85 131.66,148.83 132.80,148.81 133.94,148.80 135.08,148.78 136.22,148.76 137.36,148.74 138.50,148.72 139.64,148.70 140.78,148.69 141.92,148.67 143.05,148.65 144.19,148.63 145.33,148.61 146.47,148.59 147.61,148.56 148.75,148.53 149.89,148.50 151.03,148.46 152.17,148.43 153.31,148.40 154.45,148.37 155.59,148.33 156.72,148.30 157.86,148.27 159.00,148.23 160.14,148.20 161.28,148.17 162.42,148.14 163.56,148.10 164.70,148.07 165.84,148.04 166.98,148.01 168.12,147.97 169.26,147.94 170.40,147.92 171.53,147.89 172.67,147.87 173.81,147.85 174.95,147.82 176.09,147.80 177.23,147.78 178.37,147.75 179.51,147.72 180.65,147.69 181.79,147.64 182.93,147.58 184.07,147.53 185.21,147.48 186.34,147.42 187.48,147.37 188.62,147.31 189.76,147.23 190.90,147.13 192.04,147.02 193.18,146.89 194.32,146.70 195.46,146.45 196.60,146.16 197.74,145.86 198.88,145.49 200.02,145.06 201.15,144.57 202.29,144.07 203.43,143.53 204.57,142.95 205.71,142.33 206.85,141.72 207.99,141.10 209.13,140.47 210.27,139.83 211.41,139.19 212.55,138.53 213.69,137.84 214.82,137.13 215.96,136.42 217.10,135.67 218.24,134.88 219.38,134.04 220.52,133.15 221.66,132.24 222.80,131.31 223.94,130.38 225.08,129.46 226.22,128.55 227.36,127.64 228.50,126.75 229.63,125.89 230.77,125.07 231.91,124.28 233.05,123.51 234.19,122.82 235.33,122.19 236.47,121.62 237.61,121.06 238.75,120.55 239.89,120.12 241.03,119.73 242.17,119.36 243.31,119.03 244.44,118.74 245.58,118.50 246.72,118.26 247.86,118.04 249.00,117.84 250.14,117.65 251.28,117.47 252.42,117.32 253.56,117.22 254.70,117.16 255.84,117.10 256.98,117.10 258.11,117.16 259.25,117.28 260.39,117.43 261.53,117.58 262.67,117.74 263.81,117.90 264.95,118.07 266.09,118.23 267.23,118.39 268.37,118.56 269.51,118.75 270.65,118.98 271.79,119.24 272.92,119.49 274.06,119.74 275.20,120.00 276.34,120.25 277.48,120.50 278.62,120.75 279.76,120.98 280.90,121.21 282.04,121.43 283.18,121.66 284.32,121.89 285.46,122.11 286.60,122.34 287.73,122.56 288.87,122.78 290.01,123.00 291.15,123.22 292.29,123.43 293.43,123.65 294.57,123.86 295.71,124.08 296.85,124.30 297.99,124.51 299.13,124.73 300.27,124.96 301.40,125.19 302.54,125.44 303.68,125.68 304.82,125.92 305.96,126.16 307.10,126.41 308.24,126.65 309.38,126.86 310.52,127.04 311.66,127.20 312.80,127.36 313.94,127.52 315.08,127.68 316.21,127.84 317.35,128.00 318.49,128.17 319.63,128.33 320.77,128.51 321.91,128.68 323.05,128.85 324.19,129.03 325.33,129.20 326.47,129.37 327.61,129.55 328.75,129.73 329.89,129.91 331.02,130.10 332.16,130.28 333.30,130.47 334.44,130.65 335.58,130.84 336.72,131.03 337.86,131.21 339.00,131.39 340.14,131.55 341.28,131.68 342.42,131.79 343.56,131.90 344.69,132.01 345.83,132.11 346.97,132.22 348.11,132.33 349.25,132.44 350.39,132.54 351.53,132.65 352.67,132.76 353.81,132.86 354.95,132.97 356.09,133.08 357.23,133.18 358.37,133.28 359.50,133.37 360.64,133.45 361.78,133.53 362.92,133.61 364.06,133.69 365.20,133.77 366.34,133.85 367.48,133.94 368.62,134.02 369.76,134.11 370.90,134.21 372.04,134.30 373.18,134.39 374.31,134.48 375.45,134.58 376.59,134.67 377.73,134.76 378.87,134.85 380.01,134.95 381.15,135.04 382.29,135.13 383.43,135.23 384.57,135.32 385.71,135.41 386.85,135.51 387.98,135.60 389.12,135.72 390.26,135.88 391.40,136.08 392.54,136.28 393.68,136.48 394.82,136.68 395.96,136.88 397.10,137.09 398.24,137.28 399.38,137.46 400.52,137.62 401.66,137.78 402.79,137.94 403.93,138.10 405.07,138.26 406.21,138.42 407.35,138.58 408.49,138.73 409.63,138.88 410.77,139.02 411.91,139.16 413.05,139.31 414.19,139.45 415.33,139.60 416.47,139.74 417.60,139.89 418.74,140.03 419.88,140.16 421.02,140.27 422.16,140.37 423.30,140.46 424.44,140.55 425.58,140.64 426.72,140.74 427.86,140.83 429.00,140.92 430.14,141.01 431.28,141.09 432.41,141.17 433.55,141.25 434.69,141.33 435.83,141.41 436.97,141.49 438.11,141.57 439.25,141.66 440.39,141.74 441.53,141.82 442.67,141.90 443.81,141.97 444.95,142.05 446.08,142.13 447.22,142.22 448.36,142.31 449.50,142.40 450.64,142.50 451.78,142.60 452.92,142.70 454.06,142.80 455.20,142.89 456.34,142.96 457.48,143.02 458.62,143.07 459.76,143.14 460.89,143.24 462.03,143.36 463.17,143.48 464.31,143.61 465.45,143.73 466.59,143.86 467.73,143.98 468.87,144.10 470.01,144.25 471.15,144.41 472.29,144.60 473.43,144.79 474.57,144.97 475.70,145.16 476.84,145.34 477.98,145.53 479.12,145.71 480.26,145.83 481.40,145.89 482.54,145.92 483.68,145.94 484.82,145.97 485.96,146.01 487.10,146.05 488.24,146.10 489.37,146.15 490.51,146.19 491.65,146.24 492.79,146.28 493.93,146.33 495.07,146.38 496.21,146.42 497.35,146.47 498.49,146.51 499.63,146.55 500.77,146.58 501.91,146.62 503.05,146.65 504.18,146.68 505.32,146.71 506.46,146.75 507.60,146.78 508.74,146.81 509.88,146.85 511.02,146.88 512.16,146.91 513.30,146.95 514.44,146.98 515.58,147.01 516.72,147.04 517.86,147.08 518.99,147.11 520.13,147.14 521.27,147.16" fill="none" stroke="#000" stroke-width="1.5" stroke-linejoin="round"/>
<line x1="174.27" y1="289.0" x2="174.27" y2="9.5" stroke="#222" stroke-width="1.8" stroke-dasharray="4.5,2.91" stroke-dashoffset="6.71"/>
<line x1="438.11" y1="289.0" x2="438.11" y2="9.5" stroke="#222" stroke-width="1.8" stroke-dasharray="4.5,2.91" stroke-dashoffset="6.71"/>
</g>
<rect x="44.0" y="9.5" width="500.0" height="279.5" fill="none" stroke="#858585" stroke-width="1.4"/>
<line x1="66.73" y1="289.00" x2="66.73" y2="291.00" stroke="#333" stroke-width="0.8"/><text transform="translate(66.73,299.3) scale(0.79,1)" text-anchor="middle" class="tk">0</text><line x1="123.69" y1="289.00" x2="123.69" y2="291.00" stroke="#333" stroke-width="0.8"/><text transform="translate(123.69,299.3) scale(0.79,1)" text-anchor="middle" class="tk">50</text><line x1="180.65" y1="289.00" x2="180.65" y2="291.00" stroke="#333" stroke-width="0.8"/><text transform="translate(180.65,299.3) scale(0.79,1)" text-anchor="middle" class="tk">100</text><line x1="237.61" y1="289.00" x2="237.61" y2="291.00" stroke="#333" stroke-width="0.8"/><text transform="translate(237.61,299.3) scale(0.79,1)" text-anchor="middle" class="tk">150</text><line x1="294.57" y1="289.00" x2="294.57" y2="291.00" stroke="#333" stroke-width="0.8"/><text transform="translate(294.57,299.3) scale(0.79,1)" text-anchor="middle" class="tk">200</text><line x1="351.53" y1="289.00" x2="351.53" y2="291.00" stroke="#333" stroke-width="0.8"/><text transform="translate(351.53,299.3) scale(0.79,1)" text-anchor="middle" class="tk">250</text><line x1="408.49" y1="289.00" x2="408.49" y2="291.00" stroke="#333" stroke-width="0.8"/><text transform="translate(408.49,299.3) scale(0.79,1)" text-anchor="middle" class="tk">300</text><line x1="465.45" y1="289.00" x2="465.45" y2="291.00" stroke="#333" stroke-width="0.8"/><text transform="translate(465.45,299.3) scale(0.79,1)" text-anchor="middle" class="tk">350</text><line x1="522.41" y1="289.00" x2="522.41" y2="291.00" stroke="#333" stroke-width="0.8"/><text transform="translate(522.41,299.3) scale(0.79,1)" text-anchor="middle" class="tk">400</text><line x1="42.20" y1="258.43" x2="44.00" y2="258.43" stroke="#333" stroke-width="0.8"/><text transform="translate(40.00,261.73) scale(0.79,1)" text-anchor="end" class="tk">−100</text><line x1="42.20" y1="203.84" x2="44.00" y2="203.84" stroke="#333" stroke-width="0.8"/><text transform="translate(40.00,207.14) scale(0.79,1)" text-anchor="end" class="tk">−50</text><line x1="42.20" y1="149.25" x2="44.00" y2="149.25" stroke="#333" stroke-width="0.8"/><text transform="translate(40.00,152.55) scale(0.79,1)" text-anchor="end" class="tk">0</text><line x1="42.20" y1="94.66" x2="44.00" y2="94.66" stroke="#333" stroke-width="0.8"/><text transform="translate(40.00,97.96) scale(0.79,1)" text-anchor="end" class="tk">50</text><line x1="42.20" y1="40.07" x2="44.00" y2="40.07" stroke="#333" stroke-width="0.8"/><text transform="translate(40.00,43.37) scale(0.79,1)" text-anchor="end" class="tk">100</text>
<text x="179.3" y="283.6" class="mt" style="font-size:18.2px">t<tspan style="font-size:12.6px" dy="2.8">s</tspan></text>
<text x="444" y="283.6" class="mt" style="font-size:18.2px">t<tspan style="font-size:12.6px" dy="2.8">e</tspan></text>
<rect x="49.5" y="144.8" width="63.0" height="138.4" rx="2" ry="2" fill="#fff" fill-opacity="0.8" stroke="#d6d6d6" stroke-opacity="0.8" stroke-width="0.8"/><line x1="53.3" y1="153.20" x2="76.8" y2="153.20" stroke="#0a78c6" stroke-opacity="0.8" stroke-width="1.35"/><text transform="translate(85.5,156.75) scale(1,0.87)" class="lg">CH 1</text><line x1="53.3" y1="167.91" x2="76.8" y2="167.91" stroke="#ff7200" stroke-opacity="0.8" stroke-width="1.35"/><text transform="translate(85.5,171.46) scale(1,0.87)" class="lg">CH 2</text><line x1="53.3" y1="182.62" x2="76.8" y2="182.62" stroke="#05a532" stroke-opacity="0.8" stroke-width="1.35"/><text transform="translate(85.5,186.17) scale(1,0.87)" class="lg">CH 3</text><line x1="53.3" y1="197.33" x2="76.8" y2="197.33" stroke="#ff2f3a" stroke-opacity="0.8" stroke-width="1.35"/><text transform="translate(85.5,200.88) scale(1,0.87)" class="lg">CH 4</text><line x1="53.3" y1="212.04" x2="76.8" y2="212.04" stroke="#9060d0" stroke-opacity="0.8" stroke-width="1.35"/><text transform="translate(85.5,215.59) scale(1,0.87)" class="lg">CH 5</text><line x1="53.3" y1="226.75" x2="76.8" y2="226.75" stroke="#964a38" stroke-opacity="0.8" stroke-width="1.35"/><text transform="translate(85.5,230.30) scale(1,0.87)" class="lg">CH 6</text><line x1="53.3" y1="241.46" x2="76.8" y2="241.46" stroke="#ff62c0" stroke-opacity="0.8" stroke-width="1.35"/><text transform="translate(85.5,245.01) scale(1,0.87)" class="lg">CH 7</text><line x1="53.3" y1="256.17" x2="76.8" y2="256.17" stroke="#777777" stroke-opacity="0.8" stroke-width="1.35"/><text transform="translate(85.5,259.72) scale(1,0.87)" class="lg">CH 8</text><line x1="53.3" y1="271.80" x2="76.8" y2="271.80" stroke="#000" stroke-width="2"/><text x="85.6" y="275.80" class="mt">S<tspan font-size="8.5" font-style="normal" dy="2.5">2</tspan></text>
<text transform="translate(294,311.9) scale(1,0.9)" text-anchor="middle" class="al">TimeStep</text>
<text transform="translate(18.6,153.5) rotate(-90) scale(1,0.88)" text-anchor="middle" class="al">Signal Amplitude</text>
</svg>
</body></html>
